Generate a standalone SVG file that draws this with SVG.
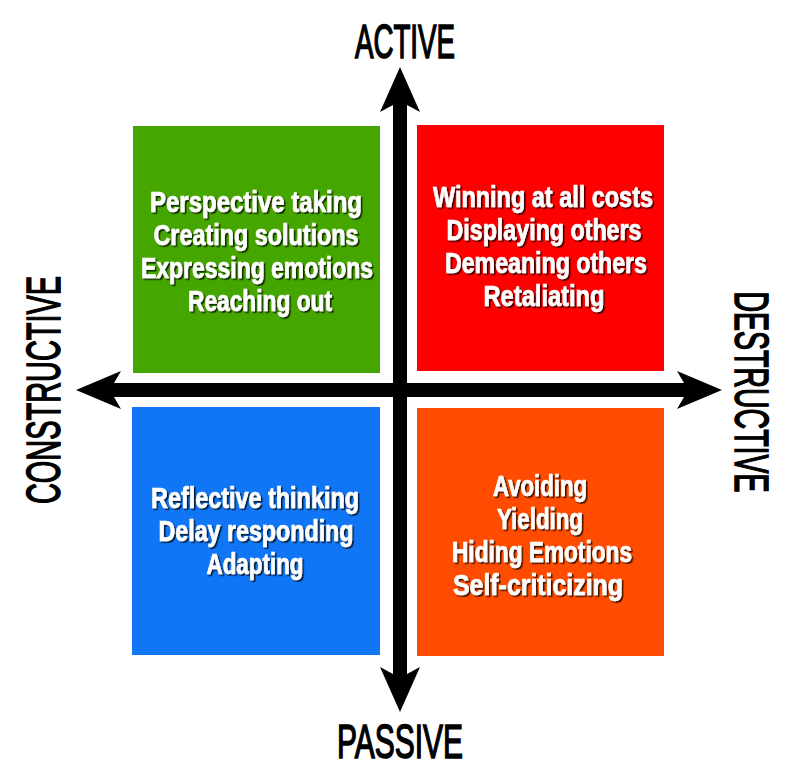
<svg xmlns="http://www.w3.org/2000/svg" width="800" height="780" viewBox="0 0 800 780">
  <defs>
    <filter id="shadow" x="-10%" y="-30%" width="120%" height="160%">
      <feDropShadow dx="1.6" dy="1.6" stdDeviation="0.7" flood-color="#000000" flood-opacity="0.75"/>
    </filter>
  </defs>
  <style>
    .box-text { font-family: "Liberation Sans", Arial, sans-serif; font-weight: bold; font-size: 29px; fill: #ffffff; stroke: #ffffff; stroke-width: 0.7px; text-anchor: middle; filter: url(#shadow); }
    .axis { font-family: "Liberation Sans", Arial, sans-serif; font-weight: normal; font-size: 49px; fill: #000000; stroke: #000000; stroke-width: 1.6px; text-anchor: middle; }
    .arrow { fill: #000000; }
  </style>
  <rect x="0" y="0" width="800" height="780" fill="#ffffff"/>

  <g id="quadrant-constructive-active">
    <rect x="133" y="126" width="247" height="247" fill="#45a600"/>
    <text class="box-text" x="256" y="212" textLength="212" lengthAdjust="spacingAndGlyphs">Perspective taking</text>
    <text class="box-text" x="256" y="245" textLength="205" lengthAdjust="spacingAndGlyphs">Creating solutions</text>
    <text class="box-text" x="257" y="278" textLength="232" lengthAdjust="spacingAndGlyphs">Expressing emotions</text>
    <text class="box-text" x="260" y="311" textLength="144" lengthAdjust="spacingAndGlyphs">Reaching out</text>
  </g>

  <g id="quadrant-destructive-active">
    <rect x="417" y="125" width="247" height="246" fill="#fe0000"/>
    <text class="box-text" x="543" y="207" textLength="220" lengthAdjust="spacingAndGlyphs">Winning at all costs</text>
    <text class="box-text" x="544" y="240" textLength="195" lengthAdjust="spacingAndGlyphs">Displaying others</text>
    <text class="box-text" x="546" y="273" textLength="202" lengthAdjust="spacingAndGlyphs">Demeaning others</text>
    <text class="box-text" x="544" y="306" textLength="121" lengthAdjust="spacingAndGlyphs">Retaliating</text>
  </g>

  <g id="quadrant-constructive-passive">
    <rect x="132" y="407" width="248" height="248" fill="#1076f5"/>
    <text class="box-text" x="255" y="508" textLength="208" lengthAdjust="spacingAndGlyphs">Reflective thinking</text>
    <text class="box-text" x="256" y="541" textLength="195" lengthAdjust="spacingAndGlyphs">Delay responding</text>
    <text class="box-text" x="255" y="574" textLength="97" lengthAdjust="spacingAndGlyphs">Adapting</text>
  </g>

  <g id="quadrant-destructive-passive">
    <rect x="417" y="408" width="247" height="248" fill="#ff4c00"/>
    <text class="box-text" x="540" y="496" textLength="94" lengthAdjust="spacingAndGlyphs">Avoiding</text>
    <text class="box-text" x="540" y="529" textLength="86" lengthAdjust="spacingAndGlyphs">Yielding</text>
    <text class="box-text" x="542" y="562" textLength="180" lengthAdjust="spacingAndGlyphs">Hiding Emotions</text>
    <text class="box-text" x="538" y="595" textLength="170" lengthAdjust="spacingAndGlyphs">Self-criticizing</text>
  </g>

  <g id="connectors">
    <polygon class="arrow" points="400,67 420,112 407,105 407,674 420,667 400,712 380,667 393,674 393,105 380,112"/>
    <polygon class="arrow" points="76,390 121,371 114,383 684,383 677,371 722,390 677,409 684,397 114,397 121,409"/>
  </g>

  <g id="label-active">
    <text class="axis" x="405" y="58" textLength="100" lengthAdjust="spacingAndGlyphs">ACTIVE</text>
  </g>
  <g id="label-passive">
    <text class="axis" x="400" y="758" textLength="126" lengthAdjust="spacingAndGlyphs">PASSIVE</text>
  </g>
  <g id="label-constructive">
    <text class="axis" transform="translate(60,390) rotate(-90)" x="0" y="0" textLength="228" lengthAdjust="spacingAndGlyphs">CONSTRUCTIVE</text>
  </g>
  <g id="label-destructive">
    <text class="axis" transform="translate(735,392) rotate(90)" x="0" y="0" textLength="201" lengthAdjust="spacingAndGlyphs">DESTRUCTIVE</text>
  </g>
</svg>
